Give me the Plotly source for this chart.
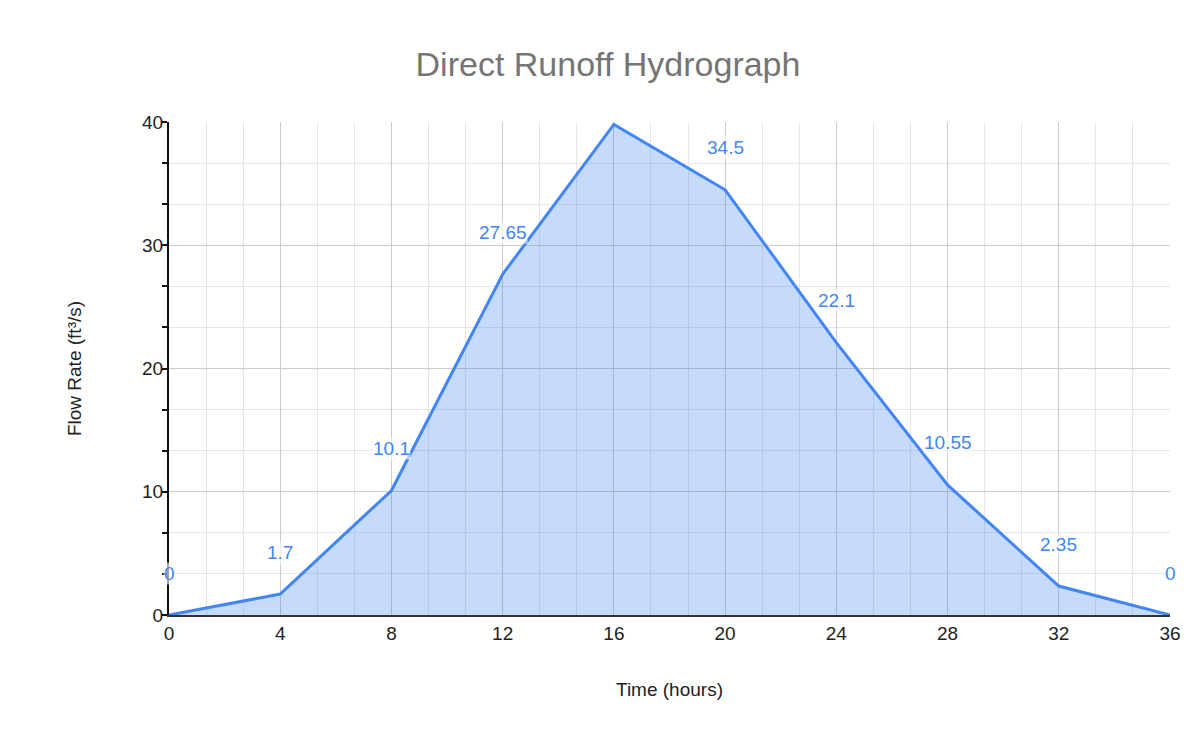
import plotly.graph_objects as go

hours = [0, 4, 8, 12, 16, 20, 24, 28, 32, 36]
flow = [0, 1.7, 10.1, 27.65, 39.8, 34.5, 22.1, 10.55, 2.35, 0]
labels = ["0", "1.7", "10.1", "27.65", "", "34.5", "22.1", "10.55", "2.35", "0"]
x_ticks = [0, 4, 8, 12, 16, 20, 24, 28, 32, 36]
y_ticks = [0, 10, 20, 30, 40]

blue = "#4285f4"
FONT = "Liberation Sans, Arial, sans-serif"
fig = go.Figure()
fig.add_trace(go.Scatter(x=hours, y=flow, mode="lines", fill="tozeroy",
                         fillcolor="rgba(66,133,244,0.3)",
                         line=dict(color=blue, width=3), hoverinfo="skip"))
for x, y, t in zip(hours, flow, labels):
    if t:
        fig.add_annotation(x=x, y=y, text=t, showarrow=False, yshift=42,
                           font=dict(color=blue, size=19, family=FONT),
                           bgcolor="rgba(255,255,255,0.6)", borderpad=0)

fig.update_layout(
    width=1200, height=742, plot_bgcolor="white", paper_bgcolor="white",
    margin=dict(l=161, r=38, t=114, b=135, autoexpand=False),
    title=dict(text="Direct Runoff Hydrograph", x=0.5, xanchor="center",
               y=1 - 56/742, yanchor="middle", yref="container",
               font=dict(size=34, color="#757575", family=FONT)),
    font=dict(family=FONT, size=19, color="#222222"),
    showlegend=False,
    xaxis=dict(range=[0, 36], tickvals=x_ticks, automargin=False,
               title=dict(text="Time (hours)", standoff=40, font=dict(size=19)),
               tickfont=dict(size=19, color="#222222"),
               showline=True, linecolor="#333333", linewidth=1.5, zeroline=False,
               minor=dict(dtick=4/3, showgrid=True, gridcolor="#e6e6e6"),
               showgrid=True, gridcolor="#cccccc"),
    yaxis=dict(range=[0, 40], tickvals=y_ticks, automargin=False,
               title=dict(text="Flow Rate (ft³/s)", standoff=55, font=dict(size=19)),
               tickfont=dict(size=19, color="#222222"),
               showline=True, linecolor="#111111", linewidth=2, zeroline=False,
               ticks="", ticklen=0,
               minor=dict(dtick=10/3, showgrid=True, gridcolor="#e6e6e6",
                          ticks="outside", ticklen=5, tickcolor="#111111", tickwidth=2),
               showgrid=True, gridcolor="#cccccc"),
)
fig.write_html("out.html")
